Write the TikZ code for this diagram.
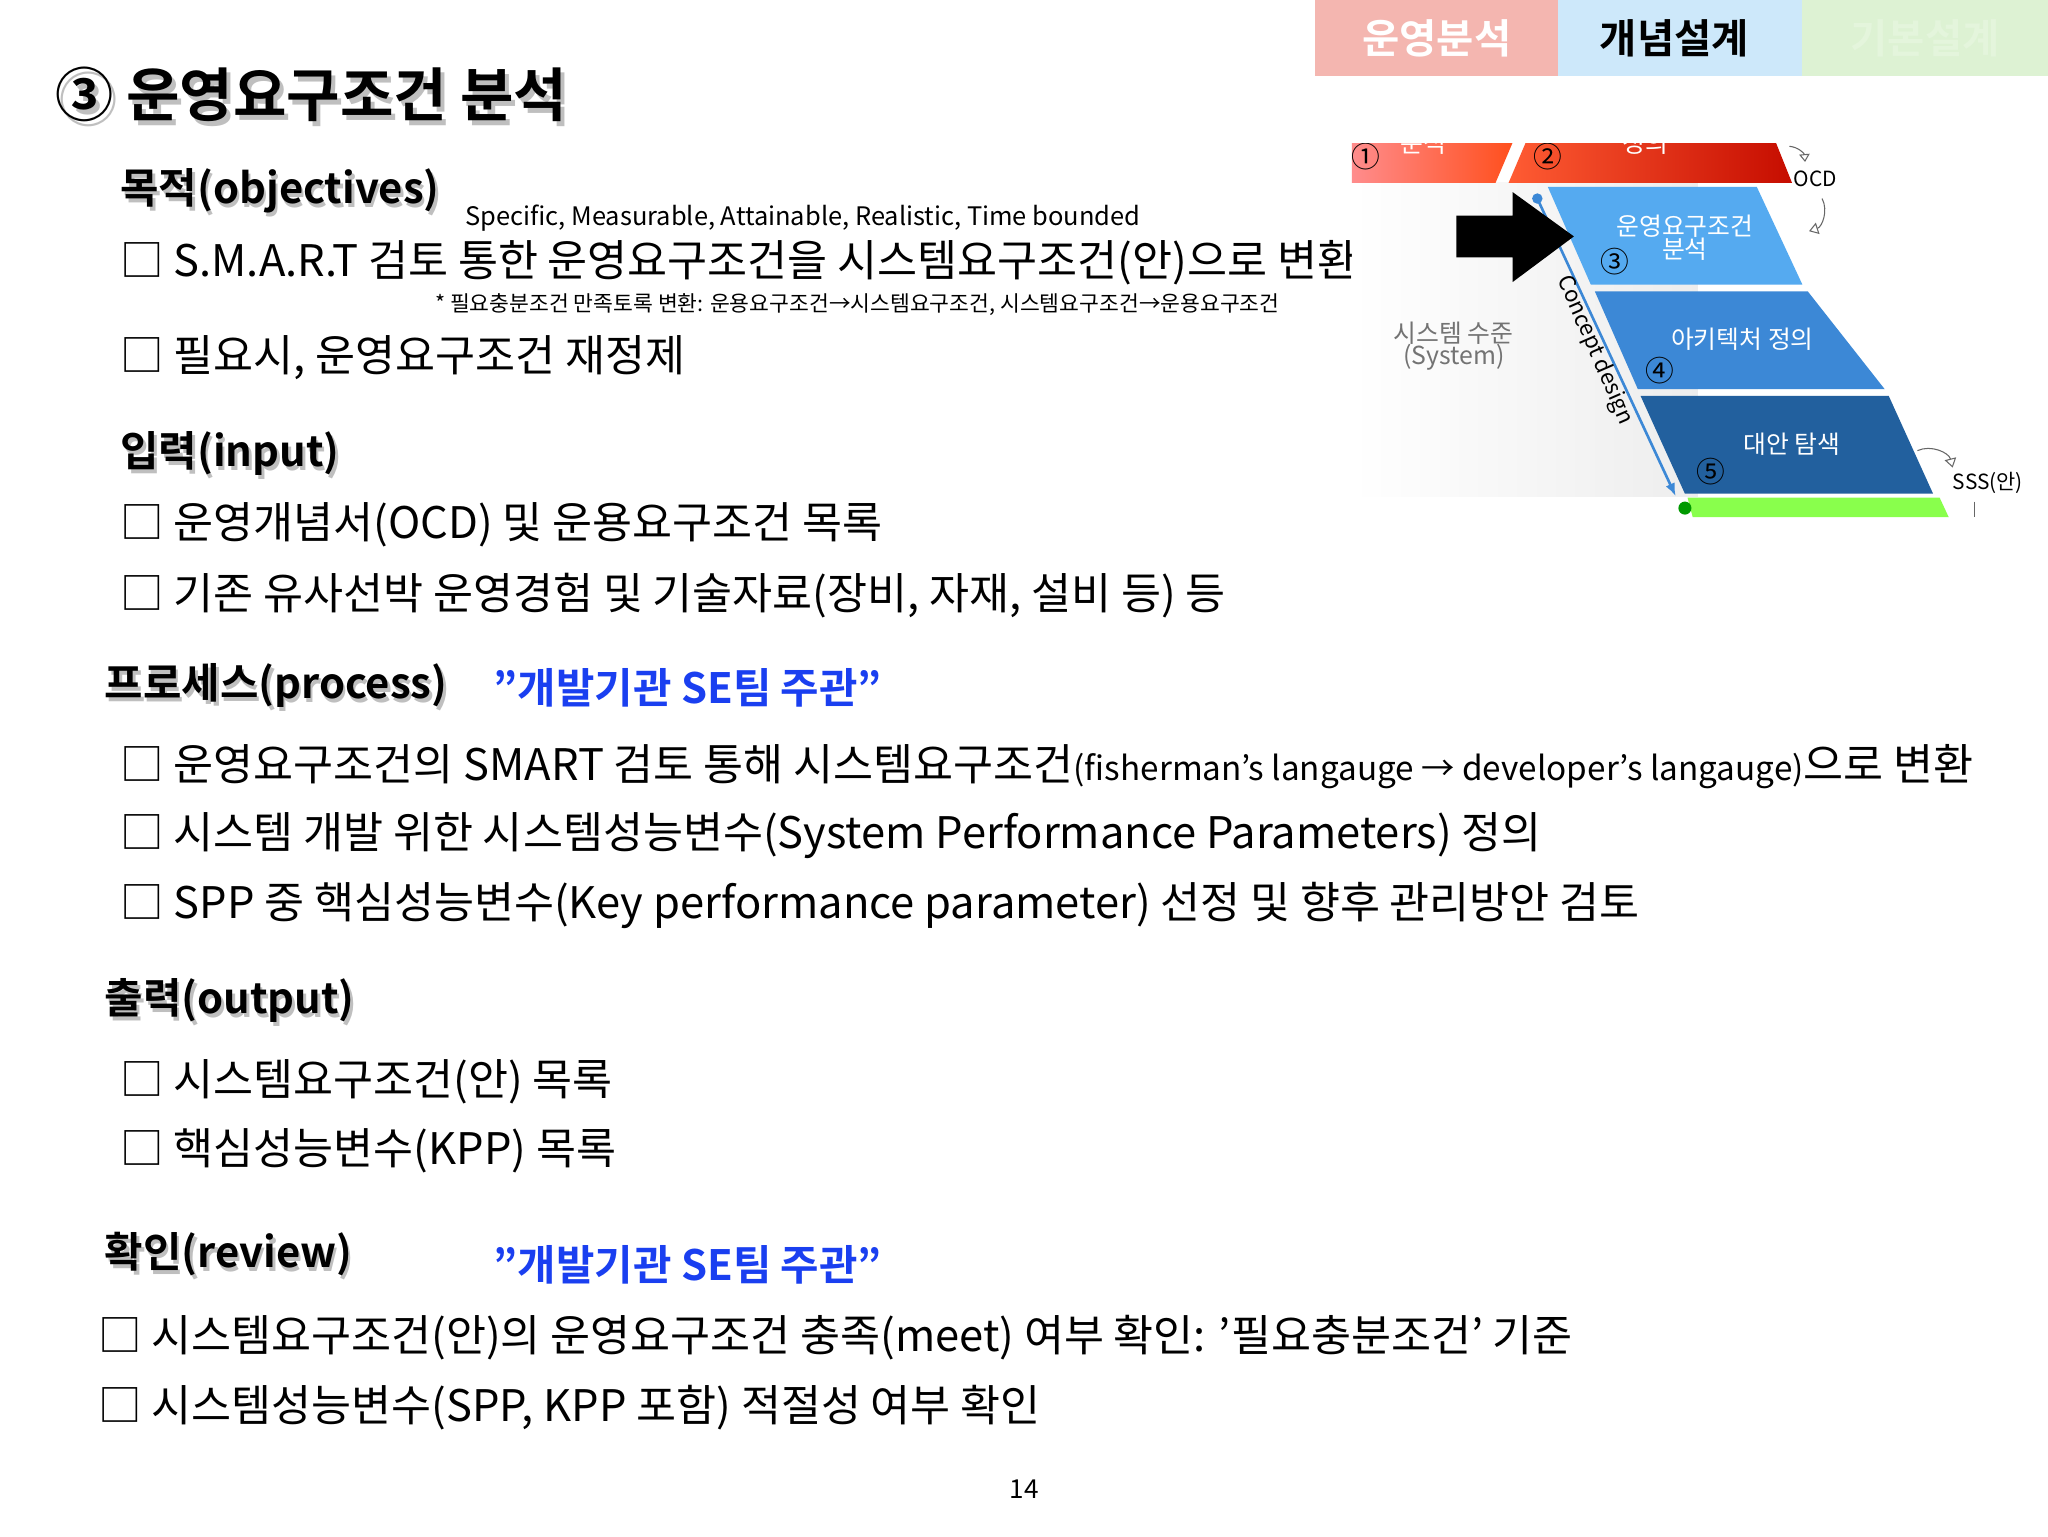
\documentclass[tikz,border=0pt]{standalone}
\usepackage{fontspec}
\setmainfont{Noto Sans CJK KR}
\newfontfamily\kbold{Noto Sans CJK KR Bold}
\usetikzlibrary{arrows.meta,shapes.geometric}
\definecolor{tabpink}{HTML}{F4B6B0}
\definecolor{tabblue}{HTML}{CDE8FA}
\definecolor{tabgreen}{HTML}{DDF2D3}
\definecolor{seblue}{HTML}{1A3FF0}
\definecolor{bA}{HTML}{55AAF0}
\definecolor{bB}{HTML}{3C88D6}
\definecolor{bC}{HTML}{22609E}
\tikzset{
 body/.style={anchor=west,inner sep=0pt,font=\fontsize{33.3}{36}\selectfont},
 head/.style={anchor=west,inner sep=0pt,font=\kbold\fontsize{32}{34}\selectfont},
 shad/.style={anchor=west,inner sep=0pt,text=black!25,font=\kbold\fontsize{32}{34}\selectfont},
 tab/.style={font=\kbold\fontsize{31}{34}\selectfont},
 wlab/.style={text=white,font=\fontsize{19}{22}\selectfont,align=center},
 cnum/.style={font=\fontsize{22}{24}\selectfont,inner sep=0pt},
}
\begin{document}
\begin{tikzpicture}[x=1pt,y=-1pt]
\useasboundingbox (0,0) rectangle (1568,1176);
\fill[white] (0,0) rectangle (1568,1176);
% tabs
\fill[tabpink] (1007,0) rectangle (1193,58);
\fill[tabblue] (1193,0) rectangle (1380,58);
\fill[tabgreen] (1380,0) rectangle (1568,58);
\node[tab,text=white] (t1) at (1100,29) {운영분석};
\node[tab,text=black] (t2) at (1282,29) {개념설계};
\node[tab,text=tabgreen!80!white] (t3) at (1474,29) {기본설계};
% title
\node[shad,font=\kbold\fontsize{44.5}{48}\selectfont] at (45,76) {③ 운영요구조건 분석};
\node[anchor=west,inner sep=0pt,font=\kbold\fontsize{44.5}{48}\selectfont] (title) at (42,72) {③ 운영요구조건 분석};
% objectives
\node[shad] at (94,149) {목적(objectives)};
\node[head] (h1) at (92,146) {목적(objectives)};
\node[body,font=\fontsize{19.5}{21}\selectfont] (smart) at (356,167) {Specific, Measurable, Attainable, Realistic, Time bounded};
\node[body] (o1) at (92,201) {□ S.M.A.R.T 검토 통한 운영요구조건을 시스템요구조건(안)으로 변환};
\node[body,font=\fontsize{16.5}{18}\selectfont] (note) at (333,233) {* 필요충분조건 만족토록 변환: 운용요구조건→시스템요구조건, 시스템요구조건→운용요구조건};
\node[body] (o2) at (92,274) {□ 필요시, 운영요구조건 재정제};
% input
\node[shad] at (94,350) {입력(input)};
\node[head] (h2) at (92,347) {입력(input)};
\node[body] (i1) at (92,402) {□ 운영개념서(OCD) 및 운용요구조건 목록};
\node[body] (i2) at (92,456) {□ 기존 유사선박 운영경험 및 기술자료(장비, 자재, 설비 등) 등};
% process
\node[shad] at (82,528) {프로세스(process)};
\node[head] (h3) at (80,525) {프로세스(process)};
\node[head,text=seblue] (se1) at (378,527) {”개발기관 SE팀 주관”};
\node[body] (p1) at (92,587) {□ 운영요구조건의 SMART 검토 통해 시스템요구조건{\fontsize{25.5}{27}\selectfont(fisherman’s langauge → developer’s langauge)}으로 변환};
\node[body] (p2) at (92,640) {□ 시스템 개발 위한 시스템성능변수(System Performance Parameters) 정의};
\node[body] (p3) at (92,693) {□ SPP 중 핵심성능변수(Key performance parameter) 선정 및 향후 관리방안 검토};
% output
\node[shad] at (82,769) {출력(output)};
\node[head] (h4) at (80,766) {출력(output)};
\node[body] (u1) at (92,828) {□ 시스템요구조건(안) 목록};
\node[body] (u2) at (92,881) {□ 핵심성능변수(KPP) 목록};
% review
\node[shad] at (82,963) {확인(review)};
\node[head] (h5) at (80,960) {확인(review)};
\node[head,text=seblue] (se2) at (378,968) {”개발기관 SE팀 주관”};
\node[body] (r1) at (75,1024) {□ 시스템요구조건(안)의 운영요구조건 충족(meet) 여부 확인: ’필요충분조건’ 기준};
\node[body] (r2) at (75,1078) {□ 시스템성능변수(SPP, KPP 포함) 적절성 여부 확인};
\node[font=\fontsize{20}{22}\selectfont] (pg) at (784,1140) {14};
% diagram
\begin{scope}
\clip (1035,110) rectangle (1560,396);
\fill[white] (1035,110) rectangle (1560,396);
\shade[left color=white,right color=black!7] (1035,140) rectangle (1300,380);
\shade[left color=red!45!white,right color=red!55!orange!90!white] (1035,100) -- (1162,100) -- (1145,140) -- (1035,140) -- cycle;
\shade[left color=red!60!orange!80!white,right color=red!75!black!90!orange] (1172,100) -- (1356,100) -- (1372,140) -- (1155,140) -- cycle;
\node[text=white,font=\fontsize{19}{20}\selectfont] at (1090,110) {분석};
\node[text=white,font=\fontsize{19}{20}\selectfont] at (1260,110) {정의};
\node[cnum] at (1046,120) {①};
\node[cnum] at (1185,120) {②};
\fill[bA] (1185,143) -- (1345,143) -- (1380,218) -- (1218,218) -- cycle;
\fill[bB] (1221,223) -- (1384,223) -- (1443,298) -- (1254,298) -- cycle;
\fill[bC] (1256,303) -- (1446,303) -- (1480,378) -- (1290,378) -- cycle;
\fill[green!55!lime!70!white] (1292,381) -- (1485,381) -- (1492,396) -- (1296,396) -- cycle;
\node[wlab] (l3) at (1290,182) {운영요구조건\\[-4pt]분석};
\node[cnum] at (1236,200) {③};
\node[wlab] (l4) at (1334,260) {아키텍처 정의};
\node[cnum] at (1271,284) {④};
\node[wlab] (l5) at (1372,340) {대안 탐색};
\node[cnum] at (1310,361) {⑤};
\node[text=black!55,align=center,font=\fontsize{19}{20}\selectfont] (sys) at (1113,265) {시스템 수준\\[-3pt](System)};
\coordinate (cs) at (1177,152);
\coordinate (ce) at (1283,380);
\fill[bB] (cs) circle (4);
\fill[green!60!black] (1290,389) circle (5);
\draw[bB,line width=2pt,-{Latex[length=10pt]}] (cs) -- (ce);
\node[rotate=-66.5,font=\fontsize{17}{18}\selectfont] at (1221,268) {Concept design};
\fill[black] (1115,165) -- (1158,165) -- (1158,147) -- (1205,181) -- (1158,216) -- (1158,197) -- (1115,197) -- cycle;
\node[font=\fontsize{16}{18}\selectfont] (ocd) at (1390,137) {OCD};
\draw[black!60,line width=0.8pt,-{Triangle[open,length=7pt,width=9pt]}] (1395,152) to[bend left=50] (1385,177);
\draw[black!60,line width=0.8pt,-{Triangle[open,length=6pt,width=8pt]}] (1370,112) to[bend left=40] (1382,124);
\node[font=\fontsize{16}{18}\selectfont] (sss) at (1522,370) {SSS(안)};
\draw[black!60,line width=0.8pt,-{Triangle[open,length=7pt,width=9pt]}] (1468,345) to[bend left=50] (1495,358);
\draw[black!60,line width=0.8pt] (1512,384) -- (1512,396);
\end{scope}
\end{tikzpicture}
\end{document}
